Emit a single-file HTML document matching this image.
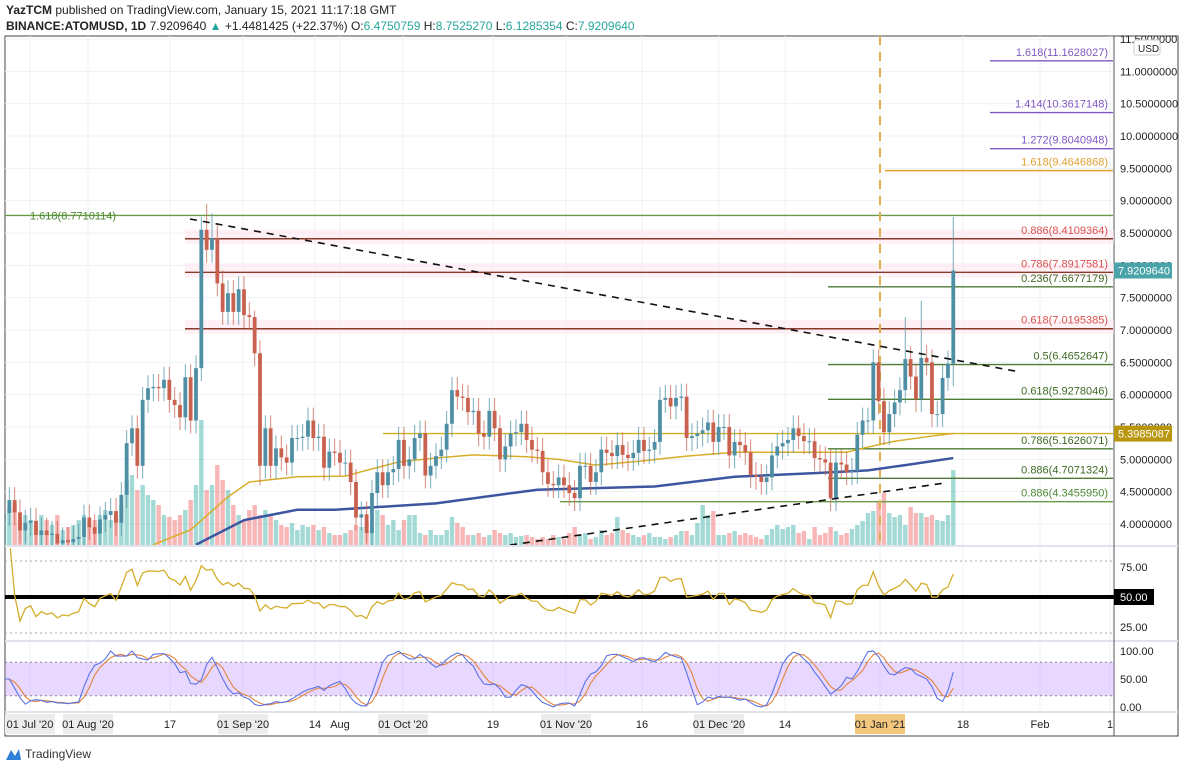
<!DOCTYPE html>
<html><head><meta charset="utf-8"><style>
html,body{margin:0;padding:0;background:#fff;width:1185px;height:768px;overflow:hidden;font-family:"Liberation Sans",sans-serif}
#hdr1{position:absolute;left:6px;top:3px;font-size:12px;color:#222}
#hdr2{position:absolute;left:6px;top:19px;font-size:12px;color:#222}
.v{color:#26a69a}
</style></head><body>
<div id="hdr1"><b>YazTCM</b> published on TradingView.com, January 15, 2021 11:17:18 GMT</div>
<div id="hdr2"><b>BINANCE:ATOMUSD, 1D</b> 7.9209640 <span class="v">▲</span> +1.4481425 (+22.37%) O:<span class="v">6.4750759</span> H:<span class="v">8.7525270</span> L:<span class="v">6.1285354</span> C:<span class="v">7.9209640</span></div>
<svg id="chart" width="1185" height="768" style="position:absolute;left:0;top:0" xmlns="http://www.w3.org/2000/svg" font-family="Liberation Sans, sans-serif"></svg>
<script>
// ---- data ----
const closes=[4.17,4.37,4.18,3.9,4.02,4.05,3.83,3.9,3.83,3.85,3.7,3.75,3.72,3.77,3.8,4.1,3.95,3.85,4.07,4.14,
4.2,4.02,4.45,5.25,5.48,4.9,5.92,6.1,6.12,6.1,6.23,5.92,5.84,5.65,6.27,5.6,6.41,8.55,8.24,8.42,
7.72,7.28,7.57,7.28,7.63,7.23,7.2,6.64,4.9,5.48,4.9,5.17,5.03,4.95,5.33,5.33,5.35,5.6,5.33,5.35,
4.87,5.12,5.1,4.95,4.95,4.65,4.1,4.15,3.86,4.48,4.8,4.6,4.8,4.85,5.3,
4.9,5.0,5.33,5.4,4.75,4.9,5.05,5.15,5.55,6.07,5.97,5.95,5.73,5.75,5.4,5.35,5.75,5.48,5.0,5.2,
5.4,5.42,5.55,5.3,5.15,5.13,4.8,4.62,4.6,4.72,4.6,4.48,4.4,4.9,4.9,4.65,4.8,5.15,5.1,5.05,
5.22,5.07,5.02,5.1,5.3,5.13,5.15,
5.27,5.92,5.95,5.82,5.95,5.97,5.33,5.36,5.4,5.45,5.57,5.27,5.5,5.5,5.06,5.27,5.22,5.11,4.76,4.73,
4.65,4.72,5.06,5.2,5.25,5.3,5.48,5.36,5.28,5.28,5.02,5.0,4.95,4.4,4.95,4.92,4.8,4.82,5.38,5.6,
5.6,6.5,5.9,5.42,5.7,5.88,6.07,6.55,6.28,5.93,6.57,6.5,5.7,5.7,6.26,6.48,7.92];
const firstOpen=4.1;
const specialHigh={38:8.95,39:8.8,178:8.75,47:7.3,172:7.45,169:7.2};
const specialLow={178:6.13,48:4.6,68:3.7};
const volumes=[30,35,40,25,30,25,20,30,25,20,30,15,18,20,25,30,20,25,30,35,25,30,40,65,70,55,60,50,45,40,
30,28,25,30,35,45,60,125,55,60,80,65,55,40,30,25,35,40,30,35,30,25,20,18,22,15,20,18,20,15,
18,12,10,10,12,15,20,18,22,15,35,30,20,25,15,
25,30,30,12,10,15,10,10,15,28,22,18,10,10,12,8,10,15,12,10,12,8,9,10,8,6,8,6,10,8,
6,12,18,10,12,6,8,15,10,12,28,15,12,10,8,10,12,
8,8,6,8,10,14,14,10,22,40,30,34,10,10,12,14,10,12,10,8,6,10,16,20,16,18,20,12,14,6,
18,10,12,18,14,10,12,16,20,24,32,34,44,52,32,28,30,20,38,32,32,28,30,25,24,30,75];
const maFastDays=[28,35,42,46,55,64,68,74,81,88,98,104,111,119,128,137,149,158,162,167,174,178];
const maFastVals=[3.68,3.91,4.42,4.65,4.73,4.74,4.83,4.96,5.02,5.07,5.04,5.0,4.91,4.97,5.05,5.11,5.11,5.11,5.19,5.28,5.36,5.40];
const maSlowDays=[36,45,55,62,81,100,122,137,153,162,169,178];
const maSlowVals=[3.68,4.06,4.22,4.22,4.32,4.53,4.58,4.73,4.79,4.83,4.91,5.02];
const priceTicks=[4.0,4.5,5.0,5.5,6.0,6.5,7.0,7.5,8.0,8.5,9.0,9.5,10.0,10.5,11.0,11.5];
const fibLevels=[11.1628027,10.3617148,9.8040948,9.4646868,8.7710114,8.4109364,7.8917581,7.6677179,7.0195385,6.4652647,5.9278046,5.3985087,5.1626071,4.7071324,4.3455950];
const fibNames=["1.618","1.414","1.272","1.618","1.618","0.886","0.786","0.236","0.618","0.5","0.618","","0.786","0.886","0.886"];
const fibStart=[990,990,990,885,5,185,185,828,185,828,828,383,828,828,560];
const fibColor=["#7e57c2","#7e57c2","#7e57c2","#e0a030","#6a9a45","#8b3a2a","#8b3a2a","#4e7a35","#8b3a2a","#4e7a35","#4e7a35","#d4b020","#4e7a35","#4e7a35","#6a9a45"];
const fibText=["#7e57c2","#7e57c2","#7e57c2","#e0a030","#4e8a35","#d9534f","#d9534f","#3e6a25","#d9534f","#3e6a25","#3e6a25","","#3e6a25","#3e6a25","#4e8a35"];
const timeLabels=["01 Jul '20","01 Aug '20","17","01 Sep '20","14","Aug","01 Oct '20","19","01 Nov '20","16","01 Dec '20","14","01 Jan '21","18","Feb","1"];
const timeLabelX=[30,88,170,243,315,340,403,493,566,642,719,785,880,963,1040,1110];
const rsiTicks=[25,50,75];
const stochTicks=[0,50,100];

// ---- scales ----
const X0=4, STEP=5.333;
const xD=d=>X0+d*STEP;
const yP=p=>233+(8.5-p)*64.67;
const yR=v=>597-(v-50)*1.2;
const yS=v=>707-v*0.56;
const svg=document.getElementById('chart');
const NS='http://www.w3.org/2000/svg';
function mk(tag,attrs,parent){const e=document.createElementNS(NS,tag);for(const k in attrs)e.setAttribute(k,attrs[k]);(parent||svg).appendChild(e);return e;}

const frame=mk('rect',{x:5,y:36,width:1173,height:700,fill:'none',stroke:'#444','stroke-width':1});


const defs=mk('defs',{});
const cp=mk('clipPath',{id:'mainclip'},defs);mk('rect',{x:5,y:36,width:1109,height:509},cp);
const cpr=mk('clipPath',{id:'rsiclip'},defs);mk('rect',{x:5,y:548,width:1109,height:92},cpr);
const cps=mk('clipPath',{id:'stclip'},defs);mk('rect',{x:5,y:643,width:1109,height:68},cps);
priceTicks.forEach(p=>{const g=mk('line',{x1:5,x2:1114,y1:yP(p),y2:yP(p),stroke:'#eef1f4'});});
timeLabelX.forEach(x=>{const g=mk('line',{x1:x,x2:x,y1:36,y2:712,stroke:'#eef1f4'});});
[546,641,712].forEach(y=>{const l=mk('line',{x1:5,x2:1178,y1:y,y2:y,stroke:'#e0e3eb','stroke-width':2});});
const axl=mk('line',{x1:1114,x2:1114,y1:36,y2:736,stroke:'#555'});



const main=mk('g',{'clip-path':'url(#mainclip)'});


[8.4109364,7.8917581,7.0195385].forEach(p=>{const b=mk('rect',{x:185,y:yP(p)-9,width:929,height:14,fill:'#fde6ef',opacity:0.6},main);});
closes.forEach((c,i)=>{const o=i?closes[i-1]:firstOpen;const v=volumes[i]||10;
 const r=mk('rect',{x:xD(i)-2.2,y:545-v,width:4.4,height:v,fill:c>=o?'rgba(38,166,154,0.42)':'rgba(239,83,80,0.42)'},main);
 
 });
fibLevels.forEach((p,i)=>{const l=mk('line',{x1:fibStart[i],x2:1113,y1:yP(p),y2:yP(p),stroke:fibColor[i],'stroke-width':1.4},main);
 
 });
const vd=mk('line',{x1:880,x2:880,y1:36,y2:545,stroke:'#e0b050','stroke-width':2,'stroke-dasharray':'9,7'},main);


function maPath(days,vals,col,w,name){let d='';days.forEach((dd,i)=>{d+=(i?'L':'M')+xD(dd)+','+yP(vals[i]);});const p=mk('path',{d:d,fill:'none',stroke:col,'stroke-width':w},main);}
maPath(maFastDays,maFastVals,'#d8ad2a',1.5,'ma-fast-line');
maPath(maSlowDays,maSlowVals,'#3d56a0',2.5,'ma-slow-line');
closes.forEach((c,i)=>{const o=i?closes[i-1]:firstOpen;const up=c>=o;const col=up?'#4f8fa5':'#c8624e';
 const hi=specialHigh[i]!==undefined?specialHigh[i]:Math.max(o,c)+0.2;
 const lo=specialLow[i]!==undefined?specialLow[i]:Math.min(o,c)-0.2;
 const x=xD(i);
 const w=mk('line',{x1:x,x2:x,y1:yP(hi),y2:yP(lo),stroke:col,'stroke-width':1,opacity:0.75},main);
 
 
 const top=yP(Math.max(o,c)),bot=yP(Math.min(o,c));
 const b=mk('rect',{x:x-1.9,y:top,width:3.8,height:Math.max(1,bot-top),fill:col},main);
 
 });
const t1=mk('line',{x1:190,y1:219,x2:1020,y2:372,stroke:'#111','stroke-width':1.6,'stroke-dasharray':'7,6'},main);


const t2=mk('line',{x1:510,y1:545,x2:945,y2:483,stroke:'#111','stroke-width':1.6,'stroke-dasharray':'7,6'},main);


fibLevels.forEach((p,i)=>{if(!fibNames[i])return;const left=(i===4);
 const t=mk('text',{x:left?30:1108,y:yP(p)-(left?-4:5),'font-size':11,fill:fibText[i],'text-anchor':left?'start':'end'});
 t.textContent=fibNames[i]+'('+p.toFixed(7)+')';
 
 });
priceTicks.forEach(p=>{const t=mk('text',{x:1120,y:yP(p)+4,'font-size':11,fill:'#222'});t.textContent=p.toFixed(7);});
const usd=mk('rect',{x:1134,y:40,width:26,height:15,fill:'#fff',stroke:'#ccc',rx:2});


const ut=mk('text',{x:1138,y:52,'font-size':10,fill:'#222'});ut.textContent='USD';


function priceTag(p,txt,bg,name){const r=mk('rect',{x:1114,y:yP(p)-8,width:58,height:16,fill:bg});
 const t=mk('text',{x:1118,y:yP(p)+4,'font-size':11,fill:'#fff'});t.textContent=txt;}
priceTag(closes[closes.length-1],'7.9209640','#4aa3a8','last-price-tag');
priceTag(5.3985087,'5.3985087','#b8970f','ma-price-tag');

// ---- RSI (derived from closes) ----
const rsi=[];let ag=0,al=0;
for(let i=1;i<closes.length;i++){const ch=closes[i]-closes[i-1];const g=Math.max(ch,0),l=Math.max(-ch,0);
 if(i<=14){ag=(ag*(i-1)+g)/i;al=(al*(i-1)+l)/i;}else{ag=(ag*13+g)/14;al=(al*13+l)/14;}
 rsi[i]=al===0?100:100-100/(1+ag/al);}
rsi[0]=rsi[1];
const rsiG=mk('g',{'clip-path':'url(#rsiclip)'});


[80,20].forEach(v=>{const l=mk('line',{x1:5,x2:1114,y1:yR(v),y2:yR(v),stroke:'#aaa','stroke-dasharray':'2,3'},rsiG);});
const l50=mk('line',{x1:5,x2:1114,y1:yR(50),y2:yR(50),stroke:'#000','stroke-width':4},rsiG);


let rd='';rsi.forEach((v,i)=>{rd+=(i?'L':'M')+xD(i)+','+yR(v);});
const rp=mk('path',{d:rd,fill:'none',stroke:'#d4ad2a','stroke-width':1.3},rsiG);


rsiTicks.forEach(v=>{if(v===50)return;const t=mk('text',{x:1120,y:yR(v)+4,'font-size':11,fill:'#222'});t.textContent=v.toFixed(2);});
const r50=mk('rect',{x:1114,y:yR(50)-8,width:40,height:16,fill:'#000'});


const r50t=mk('text',{x:1120,y:yR(50)+4,'font-size':11,fill:'#fff'});r50t.textContent='50.00';



// ---- Stoch RSI (derived) ----
const st=[],K=[],D=[];
rsi.forEach((v,i)=>{const w=rsi.slice(Math.max(0,i-13),i+1);const mn=Math.min(...w),mx=Math.max(...w);st[i]=mx>mn?(v-mn)/(mx-mn)*100:50;});
st.forEach((v,i)=>{const w=st.slice(Math.max(0,i-2),i+1);K[i]=w.reduce((a,b)=>a+b,0)/w.length;});
K.forEach((v,i)=>{const w=K.slice(Math.max(0,i-2),i+1);D[i]=w.reduce((a,b)=>a+b,0)/w.length;});
const stG=mk('g',{'clip-path':'url(#stclip)'});


const band=mk('rect',{x:5,y:yS(80),width:1109,height:yS(20)-yS(80),fill:'rgba(190,140,255,0.35)'},stG);


[80,20].forEach(v=>{const l=mk('line',{x1:5,x2:1114,y1:yS(v),y2:yS(v),stroke:'#888','stroke-dasharray':'2,3'},stG);});
function line(arr,col,name){let d='';arr.forEach((v,i)=>{d+=(i?'L':'M')+xD(i)+','+yS(v);});const p=mk('path',{d:d,fill:'none',stroke:col,'stroke-width':1.1},stG);}
line(D,'#e3843f','stoch-d-line');
line(K,'#5b72e6','stoch-k-line');
stochTicks.forEach(v=>{const t=mk('text',{x:1120,y:yS(v)+4,'font-size':11,fill:'#222'});t.textContent=v.toFixed(2);});

// ---- time axis ----
timeLabels.forEach((s,i)=>{const x=timeLabelX[i];
 const hl=s.indexOf("'")>=0;
 if(hl){const r=mk('rect',{x:x-25,y:714,width:50,height:20,fill:s==="01 Jan '21"?'#f3c77e':'#ececec'});}
 const t=mk('text',{x:x,y:728,'font-size':11,fill:'#222','text-anchor':'middle'});t.textContent=s;
 
 });
const logo=mk('path',{d:'M6 760 L11 750 L15 756 L19 749 L21 760 Z',fill:'#2f80d6'});


const lt=mk('text',{x:25,y:758,'font-size':12,fill:'#333'});lt.textContent='TradingView';


</script>
</body></html>
